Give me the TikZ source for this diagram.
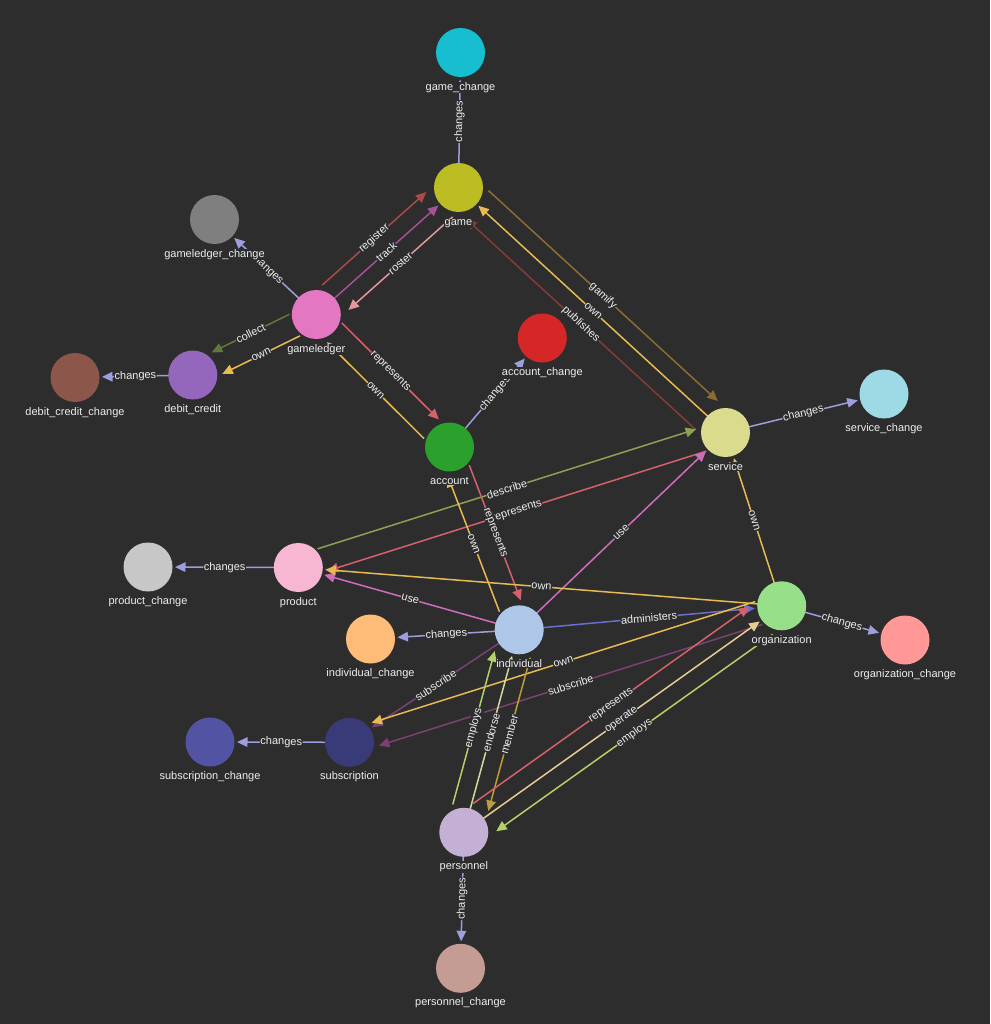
\documentclass[tikz,border=0pt]{standalone}
\usepackage{fontspec}
\setmainfont{Liberation Sans}
\usetikzlibrary{calc,arrows.meta}
\pgfdeclarelayer{bglayer}
\pgfdeclarelayer{edgelayer}
\pgfdeclarelayer{nodelayer}
\pgfdeclarelayer{toplayer}
\pgfsetlayers{bglayer,edgelayer,main,nodelayer,toplayer}
\definecolor{bg}{HTML}{2D2D2D}
\definecolor{txt}{HTML}{EEEEEE}
% node colours
\definecolor{cGameCh}{HTML}{17BECF}
\definecolor{cGame}{HTML}{BCBD22}
\definecolor{cGlCh}{HTML}{7F7F7F}
\definecolor{cGl}{HTML}{E377C2}
\definecolor{cAccCh}{HTML}{D62728}
\definecolor{cDc}{HTML}{9467BD}
\definecolor{cDcCh}{HTML}{8C564B}
\definecolor{cSrvCh}{HTML}{9EDAE5}
\definecolor{cSrv}{HTML}{DBDB8D}
\definecolor{cAcc}{HTML}{2CA02C}
\definecolor{cProdCh}{HTML}{C7C7C7}
\definecolor{cProd}{HTML}{F7B6D2}
\definecolor{cOrg}{HTML}{98DF8A}
\definecolor{cOrgCh}{HTML}{FF9896}
\definecolor{cIndCh}{HTML}{FFBB78}
\definecolor{cInd}{HTML}{AEC7E8}
\definecolor{cSubCh}{HTML}{5254A3}
\definecolor{cSub}{HTML}{393B79}
\definecolor{cPers}{HTML}{C5B0D5}
\definecolor{cPersCh}{HTML}{C49C94}
% edge colours
\definecolor{eChanges}{HTML}{9C9EDE}
\definecolor{eRegister}{HTML}{AD494A}
\definecolor{eTrack}{HTML}{A55194}
\definecolor{eRoster}{HTML}{E7969C}
\definecolor{eCollect}{HTML}{637939}
\definecolor{eOwn}{HTML}{E7BA52}
\definecolor{eRepresents}{HTML}{D6616B}
\definecolor{eGamify}{HTML}{8C6D31}
\definecolor{ePublishes}{HTML}{843C39}
\definecolor{eDescribe}{HTML}{8CA252}
\definecolor{eUse}{HTML}{CE6DBD}
\definecolor{eAdmin}{HTML}{6B6ECF}
\definecolor{eSubscribe}{HTML}{7B4173}
\definecolor{eEmploys}{HTML}{B5CF6B}
\definecolor{eEndorse}{HTML}{CEDB9C}
\definecolor{eMember}{HTML}{BD9E39}
\definecolor{eOperate}{HTML}{E7CB94}
\tikzset{
  gnode/.style={circle,draw=none,minimum size=49pt,inner sep=0pt},
  nlabel/.style={text=txt,fill=bg,inner sep=0.6pt,anchor=mid,font=\fontsize{11}{12}\selectfont},
  edgeline/.style={line width=1.5pt,-{Triangle[length=10.5pt,width=9.5pt]}},
  elabel/.style={text=txt,fill=bg,inner sep=0.5pt,font=\fontsize{11}{12}\selectfont}
}
\newcommand\gn[5]{%
  \begin{pgfonlayer}{nodelayer}
  \node[gnode,fill=#4] (#1) at (#2,#3) {};
  \end{pgfonlayer}
  \begin{pgfonlayer}{toplayer}
  \node[nlabel] (#1-l) at ([yshift=-35pt]#1.center) {#5};
  \end{pgfonlayer}
}
\newcommand\edg[5]{%
  \pgfmathsetmacro\sA{sqrt(24*24+(#3)*(#3))}%
  \pgfmathsetmacro\aA{atan2(#3,24)}%
  \pgfmathsetmacro\sB{sqrt(27*27+(#3)*(#3))}%
  \pgfmathsetmacro\aB{-atan2(#3,27)}%
  \coordinate (s) at ($(#1)!\sA pt!\aA:(#2)$);
  \coordinate (t) at ($(#2)!\sB pt!\aB:(#1)$);
  \begin{pgfonlayer}{edgelayer}
  \draw[edgeline,draw=#4,fill=#4] (s) -- (t);
  \end{pgfonlayer}
  \path (s) -- node[elabel,sloped]{#5} (t);
}
\begin{document}
\begin{tikzpicture}[x=1pt,y=-1pt]
\useasboundingbox (0,0) rectangle (990,1024);
\begin{pgfonlayer}{bglayer}
\fill[bg] (0,0) rectangle (990,1024);
\end{pgfonlayer}
% nodes
\gn{gamech}{460.5}{52.5}{cGameCh}{game\_change}
\gn{game}{458.5}{187.5}{cGame}{game}
\gn{glch}{214.5}{219.5}{cGlCh}{gameledger\_change}
\gn{gl}{316.3}{314.5}{cGl}{gameledger}
\gn{accch}{542.3}{338}{cAccCh}{account\_change}
\gn{dc}{192.8}{375}{cDc}{debit\_credit}
\gn{dcch}{75}{377.5}{cDcCh}{debit\_credit\_change}
\gn{srvch}{884}{394}{cSrvCh}{service\_change}
\gn{srv}{725.5}{432.5}{cSrv}{service}
\gn{acc}{449.5}{447}{cAcc}{account}
\gn{prodch}{148}{567}{cProdCh}{product\_change}
\gn{prod}{298.3}{567.5}{cProd}{product}
\gn{org}{781.7}{605.8}{cOrg}{organization}
\gn{orgch}{905}{640}{cOrgCh}{organization\_change}
\gn{indch}{370.5}{639}{cIndCh}{individual\_change}
\gn{ind}{519.2}{629.8}{cInd}{individual}
\gn{subch}{210}{742}{cSubCh}{subscription\_change}
\gn{sub}{349.5}{742.3}{cSub}{subscription}
\gn{pers}{463.8}{832.3}{cPers}{personnel}
\gn{persch}{460.5}{968.3}{cPersCh}{personnel\_change}
% edges
\edg{game}{gamech}{0}{eChanges}{changes}
\edg{gl}{glch}{0}{eChanges}{changes}
\edg{gl}{game}{18}{eRegister}{register}
\edg{gl}{game}{0}{eTrack}{track}
\edg{game}{gl}{18}{eRoster}{roster}
\edg{gl}{dc}{-12}{eCollect}{collect}
\edg{gl}{dc}{12}{eOwn}{own}
\edg{dc}{dcch}{0}{eChanges}{changes}
\edg{gl}{acc}{12}{eRepresents}{represents}
\edg{acc}{gl}{12}{eOwn}{own}
\edg{acc}{accch}{0}{eChanges}{changes}
\edg{game}{srv}{18}{eGamify}{gamify}
\edg{srv}{game}{0}{eOwn}{own}
\edg{srv}{game}{18}{ePublishes}{publishes}
\edg{srv}{srvch}{0}{eChanges}{changes}
\edg{prod}{srv}{12}{eDescribe}{describe}
\edg{srv}{prod}{12}{eRepresents}{represents}
\edg{prod}{prodch}{0}{eChanges}{changes}
\edg{acc}{ind}{12}{eRepresents}{represents}
\edg{ind}{acc}{12}{eOwn}{own}
\edg{ind}{srv}{0}{eUse}{use}
\edg{ind}{prod}{0}{eUse}{use}
\edg{org}{prod}{0}{eOwn}{own}
\edg{org}{srv}{0}{eOwn}{own}
\edg{ind}{org}{0}{eAdmin}{administers}
\edg{org}{orgch}{0}{eChanges}{changes}
\edg{ind}{indch}{0}{eChanges}{changes}
\edg{ind}{sub}{0}{eSubscribe}{subscribe}
\edg{org}{sub}{-12}{eOwn}{own}
\edg{org}{sub}{12}{eSubscribe}{subscribe}
\edg{sub}{subch}{0}{eChanges}{changes}
\edg{pers}{ind}{18}{eEmploys}{employs}
\edg{pers}{ind}{0}{eEndorse}{endorse}
\edg{ind}{pers}{18}{eMember}{member}
\edg{pers}{org}{18}{eRepresents}{represents}
\edg{pers}{org}{0}{eOperate}{operate}
\edg{org}{pers}{18}{eEmploys}{employs}
\edg{pers}{persch}{0}{eChanges}{changes}
\end{tikzpicture}
\end{document}
